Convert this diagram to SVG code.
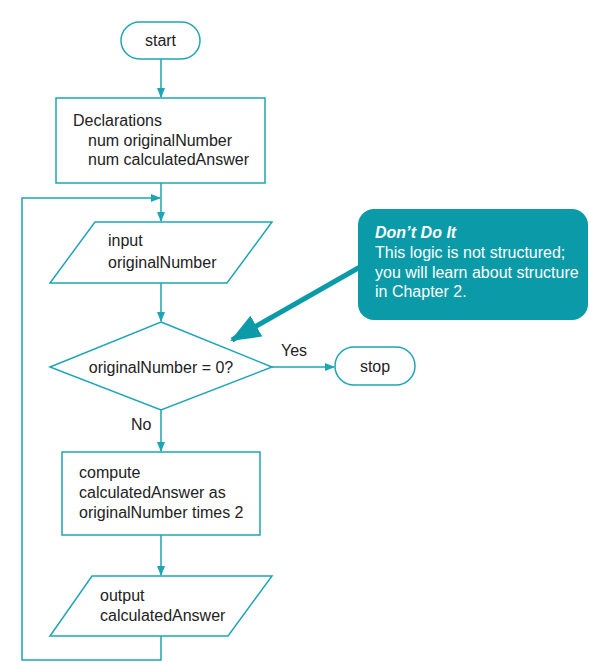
<svg xmlns="http://www.w3.org/2000/svg" width="589" height="662" viewBox="0 0 589 662">
<style>
.s{fill:#fff;stroke:#1ea5b5;stroke-width:1.5}
.c{fill:none;stroke:#1ea5b5;stroke-width:1.5}
.t{font-family:"Liberation Sans",Arial,sans-serif;font-size:16px;fill:#222}
.w{font-family:"Liberation Sans",Arial,sans-serif;font-size:16px;fill:#fff}
</style>
<defs>
<marker id="a" markerWidth="10" markerHeight="8" refX="9" refY="4" orient="auto" markerUnits="userSpaceOnUse">
<path d="M0,0 L10,4 L0,8 Z" fill="#1ea5b5"/>
</marker>
<marker id="b" markerWidth="30" markerHeight="24" refX="28" refY="12" orient="auto" markerUnits="userSpaceOnUse">
<path d="M0,0 L30,12 L0,24 Z" fill="#0a9aa8"/>
</marker>
</defs>
<g id="connectors">
<line class="c" x1="161" y1="59" x2="161" y2="97" marker-end="url(#a)"/>
<line class="c" x1="161" y1="183" x2="161" y2="221" marker-end="url(#a)"/>
<line class="c" x1="161" y1="283" x2="161" y2="321" marker-end="url(#a)"/>
<line class="c" x1="272" y1="367" x2="334" y2="367" marker-end="url(#a)"/>
<line class="c" x1="161" y1="410" x2="161" y2="451" marker-end="url(#a)"/>
<line class="c" x1="161" y1="535" x2="161" y2="575" marker-end="url(#a)"/>
<polyline class="c" points="161,636 161,660 22,660 22,198 160,198" marker-end="url(#a)"/>
<text class="t" x="281" y="356">Yes</text>
<text class="t" x="131" y="430">No</text>
</g>
<g id="start">
<rect class="s" x="121" y="22" width="79" height="37" rx="18.5"/>
<text class="t" x="160.5" y="46" text-anchor="middle">start</text>
</g>
<g id="declarations">
<rect class="s" x="56" y="98" width="209" height="85"/>
<text class="t" x="73" y="126">Declarations</text>
<text class="t" x="88" y="146">num originalNumber</text>
<text class="t" x="88" y="165">num calculatedAnswer</text>
</g>
<g id="input">
<polygon class="s" points="95,222 272,222 227,283 50,283"/>
<text class="t" x="108" y="246">input</text>
<text class="t" x="108" y="268">originalNumber</text>
</g>
<g id="decision">
<polygon class="s" points="161,322 272,367 161,410 50,367"/>
<text class="t" x="161" y="373" text-anchor="middle">originalNumber = 0?</text>
</g>
<g id="stop">
<rect class="s" x="335" y="347" width="80" height="38" rx="19"/>
<text class="t" x="375" y="372" text-anchor="middle">stop</text>
</g>
<g id="compute">
<rect class="s" x="62" y="452" width="198" height="83"/>
<text class="t" x="79" y="478">compute</text>
<text class="t" x="79" y="498">calculatedAnswer as</text>
<text class="t" x="79" y="518">originalNumber times 2</text>
</g>
<g id="output">
<polygon class="s" points="92,576 272,576 228,636 50,636"/>
<text class="t" x="100" y="601">output</text>
<text class="t" x="100" y="621">calculatedAnswer</text>
</g>
<g id="callout">
<rect x="358" y="209" width="230" height="111" rx="16" fill="#0a9aa8"/>
<text class="w" x="375" y="238" font-weight="bold" font-style="italic">Don’t Do It</text>
<text class="w" x="375" y="258">This logic is not structured;</text>
<text class="w" x="375" y="278">you will learn about structure</text>
<text class="w" x="375" y="297">in Chapter 2.</text>
<line x1="360" y1="267" x2="232" y2="340" stroke="#0a9aa8" stroke-width="5" marker-end="url(#b)"/>
</g>
</svg>
